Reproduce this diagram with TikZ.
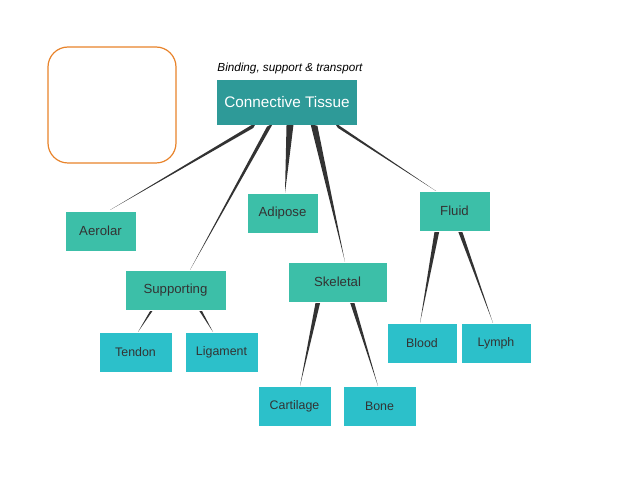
\documentclass[tikz,border=0pt]{standalone}
\usepackage{fontspec}
\setmainfont{Liberation Sans}
\usetikzlibrary{calc}
\definecolor{topc}{HTML}{2E9A98}
\definecolor{midc}{HTML}{3CBFA8}
\definecolor{leafc}{HTML}{2CC0CA}
\definecolor{lnc}{HTML}{333333}
\definecolor{orc}{HTML}{E8832A}
\tikzset{
 box/.style={draw=white,line width=0.6pt,minimum height=40pt,inner sep=0pt,font=\fontsize{13.2}{15}\selectfont,text=black!80},
 mid/.style={box,fill=midc},
 leaf/.style={box,fill=leafc,font=\fontsize{12.4}{14}\selectfont},
}
\newcommand{\mywedge}[3]{\fill[lnc] let \p1=($(#2)-(#1)$), \n1={atan2(\y1,\x1)} in ($(#1)+(\n1+90:#3)$) -- ($(#1)+(\n1-90:#3)$) -- (#2) -- cycle;}
\begin{document}
\begin{tikzpicture}[x=1pt,y=-1pt]
\useasboundingbox (0,0) rectangle (638,478);
\coordinate (c1) at (255,125); \coordinate (e1) at (110,210);
\coordinate (c2) at (270,125); \coordinate (e2) at (190,270);
\coordinate (c3) at (290,125); \coordinate (e3) at (285,193);
\coordinate (c4) at (314,125); \coordinate (e4) at (345,262);
\coordinate (c5) at (336,125); \coordinate (e5) at (436,191);
\coordinate (f1) at (437,231); \coordinate (b1) at (420,323);
\coordinate (f2) at (460,231); \coordinate (b2) at (493,323);
\coordinate (s1) at (152,310); \coordinate (t1) at (138,332);
\coordinate (s2) at (200,310); \coordinate (t2) at (213,332);
\coordinate (k1) at (318,302); \coordinate (r1) at (300,386);
\coordinate (k2) at (352,302); \coordinate (r2) at (378,386);
\mywedge{c1}{e1}{3.5}\mywedge{c2}{e2}{3.5}\mywedge{c3}{e3}{3.5}\mywedge{c4}{e4}{3.5}\mywedge{c5}{e5}{3.5}
\mywedge{f1}{b1}{2.5}\mywedge{f2}{b2}{2.5}\mywedge{s1}{t1}{2.5}\mywedge{s2}{t2}{2.5}\mywedge{k1}{r1}{2.5}\mywedge{k2}{r2}{2.5}
\draw[orc,line width=1.2pt,rounded corners=20pt] (48,47) rectangle (176,163);
\node[fill=topc,minimum width=140pt,minimum height=45pt,inner sep=0pt,text=white,font=\fontsize{15.3}{17}\selectfont] (ct) at (287,102.5) {Connective Tissue};
\node[font=\itshape\fontsize{11.7}{13}\selectfont] (lbl) at (290,68) {Binding, support \& transport};
\node[mid,minimum width=71pt] (aer) at (100.5,231) {Aerolar};
\node[mid,minimum width=71pt] (adi) at (282.5,213) {Adipose};
\node[mid,minimum width=71pt] (flu) at (454.5,211) {Fluid};
\node[mid,minimum width=101pt] (sup) at (175.5,290) {Supporting};
\node[mid,minimum width=99pt] (ske) at (337.5,282) {Skeletal};
\node[leaf,minimum width=73pt] (ten) at (135.5,352) {Tendon};
\node[leaf,minimum width=73pt] (lig) at (221.5,352) {Ligament};
\node[leaf,minimum width=70pt] (blo) at (422,343) {Blood};
\node[leaf,minimum width=70pt] (lym) at (496,343) {Lymph};
\node[leaf,minimum width=73pt] (car) at (294.5,406) {Cartilage};
\node[leaf,minimum width=73pt] (bon) at (379.5,406) {Bone};
\end{tikzpicture}
\end{document}
